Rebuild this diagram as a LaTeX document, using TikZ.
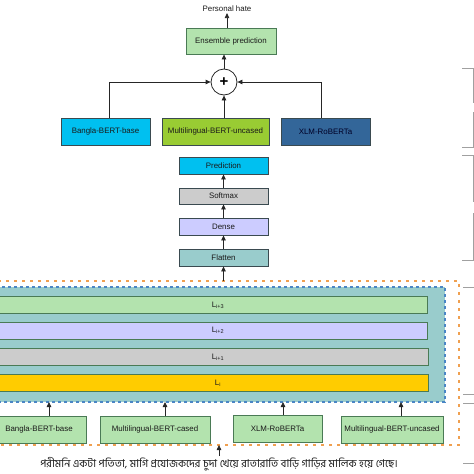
\documentclass[tikz,border=0pt]{standalone}
\usepackage{fontspec}
\setmainfont{Liberation Sans}
\newfontfamily\bengfont[Script=Bengali]{Hind Siliguri}
\usetikzlibrary{arrows.meta}
\definecolor{cyanbox}{HTML}{00C0F0}
\definecolor{ygreen}{HTML}{99CC33}
\definecolor{xlmblue}{HTML}{336699}
\definecolor{lgreen}{HTML}{B3E3AE}
\definecolor{lav}{HTML}{CCCCFF}
\definecolor{lgray}{HTML}{CCCCCC}
\definecolor{gold}{HTML}{FFCC00}
\definecolor{teal1}{HTML}{99CCCC}
\definecolor{boxline}{HTML}{3A4A50}
\definecolor{greenline}{HTML}{4A7A55}
\definecolor{orangedash}{HTML}{F0A050}
\definecolor{bluedash}{HTML}{4A86C5}
\definecolor{txt}{HTML}{1A1A1A}
\definecolor{brk}{HTML}{A0A0A0}
\begin{document}
\begin{tikzpicture}[x=1pt,y=-1pt,
  bx/.style={rectangle, draw=boxline, line width=0.8pt, inner sep=0pt, text=txt,
    font=\fontsize{7.9}{9}\selectfont},
  gbx/.style={bx, draw=greenline, fill=lgreen},
  layer/.style={rectangle, draw=greenline, line width=0.9pt, inner sep=0pt,
    minimum height=17pt},
  lab/.style={font=\fontsize{7.9}{9}\selectfont, text=txt, inner sep=1pt},
  arr/.style={-{Triangle[length=5pt,width=4.5pt]}, line width=0.8pt, draw=black!85},
  brack/.style={draw=brk, line width=0.9pt}]
\useasboundingbox (0,0) rectangle (474,474);
\clip (0,0) rectangle (474,474);

% ---------- top ensemble ----------
\node[lab] (ph) at (227,9) {Personal hate};
\node[gbx, minimum width=90pt, minimum height=26pt] (ens) at (231,41) {Ensemble prediction};
\node[circle, draw=black!85, line width=0.8pt, fill=white, minimum size=26pt, inner sep=0pt] (sum) at (224,82) {\fontsize{15}{15}\selectfont\textbf{+}};
\node[bx, fill=cyanbox, minimum width=89pt, minimum height=27pt] (t1) at (105.5,131.5) {Bangla-BERT-base};
\node[bx, fill=ygreen, minimum width=107pt, minimum height=27pt] (t2) at (215.5,131.5) {Multilingual-BERT-uncased};
\node[bx, fill=xlmblue, minimum width=89pt, minimum height=27pt, text=black!85!blue] (t3) at (325.5,131.5) {XLM-RoBERTa};

\draw[arr] ([xshift=3.5pt]t1.north) |- (sum.west);
\draw[arr] ([xshift=-4.5pt]t3.north) |- (sum.east);
\draw[arr] (sum.south |- t2.north) -- (sum.south);
\draw[arr] (sum.north) -- (sum.north |- ens.south);
\draw[arr] (ph.south |- ens.north) -- (ph.south);

% ---------- classification head ----------
\node[bx, fill=cyanbox, minimum width=89pt, minimum height=17pt] (pred) at (223.5,165.5) {Prediction};
\node[bx, fill=lgray, minimum width=89pt, minimum height=16pt] (soft) at (223.5,196) {Softmax};
\node[bx, fill=lav, minimum width=89pt, minimum height=17pt] (dense) at (223.5,226.5) {Dense};
\node[bx, fill=teal1, minimum width=89pt, minimum height=17pt] (flat) at (223.5,257.5) {Flatten};
\draw[arr] (soft.north) -- (pred.south);
\draw[arr] (dense.north) -- (soft.south);
\draw[arr] (flat.north) -- (dense.south);

% ---------- encoder region ----------
\coordinate (otop) at (0,281);
\coordinate (bbot) at (0,402);
\draw[draw=orangedash, line width=1.1pt, dash pattern=on 3pt off 5pt] (-10,281) -- (459,281) -- (459,445) -- (-10,445);
\fill[teal1] (-10,287) rectangle (445,402);
\draw[draw=bluedash, line width=1.1pt, dash pattern=on 3pt off 3pt] (-10,287) -- (445,287) -- (445,402) -- (-10,402);
\draw[arr] (flat.south |- otop) -- (flat.south);

\node[layer, fill=lgreen, minimum width=437pt] (l3) at (208.5,305) {};
\node[layer, fill=lav, minimum width=437pt] (l2) at (208.5,330.5) {};
\node[layer, fill=lgray, minimum width=438pt] (l1) at (209,357) {};
\node[layer, fill=gold, minimum width=438pt] (l0) at (209,383) {};
\node[lab] at (218,305) {L\textsubscript{i+3}};
\node[lab] at (218,330.5) {L\textsubscript{i+2}};
\node[lab] at (218,357) {L\textsubscript{i+1}};
\node[lab] at (218,383) {L\textsubscript{i}};

% ---------- bottom models ----------
\node[gbx, minimum width=94pt, minimum height=27pt] (b1) at (39,429.5) {Bangla-BERT-base};
\node[gbx, minimum width=110pt, minimum height=27pt] (b2) at (155,429.5) {Multilingual-BERT-cased};
\node[gbx, minimum width=89pt, minimum height=27pt] (b3) at (277.5,428.5) {XLM-RoBERTa};
\node[gbx, minimum width=102pt, minimum height=27pt] (b4) at (392,429.5) {Multilingual-BERT-uncased};
\draw[arr] ([xshift=10pt]b1.north) -- ([xshift=10pt]b1.north |- bbot);
\draw[arr] ([xshift=10pt]b2.north) -- ([xshift=10pt]b2.north |- bbot);
\draw[arr] ([xshift=5.5pt]b3.north) -- ([xshift=5.5pt]b3.north |- bbot);
\draw[arr] ([xshift=9pt]b4.north) -- ([xshift=9pt]b4.north |- bbot);

% ---------- input sentence ----------
\coordinate (obot) at (0,445);
\node[inner sep=1pt, text=txt, font=\bengfont\fontsize{10.8}{12}\selectfont] (sent) at (219,464) {পরীমনি একটা পতিতা, মাগি প্রযোজকদের চুদা খেয়ে রাতারাতি বাড়ি গাড়ির মালিক হয়ে গেছে।};
\draw[arr] (sent.north) -- (sent.north |- obot);

% ---------- right-edge brackets (cut off) ----------
\draw[brack] (462,68) -- (473,68) -- (473,103);
\draw[brack] (473,112) -- (473,147) -- (462,147);
\draw[brack] (462,155) -- (473,155) -- (473,202);
\draw[brack] (473,213) -- (473,260) -- (462,260);
\draw[brack] (463,287) -- (474,287);
\draw[brack] (463,394) -- (474,394);
\draw[brack] (463,403) -- (474,403);
\draw[brack] (463,463) -- (474,463);
\end{tikzpicture}
\end{document}
